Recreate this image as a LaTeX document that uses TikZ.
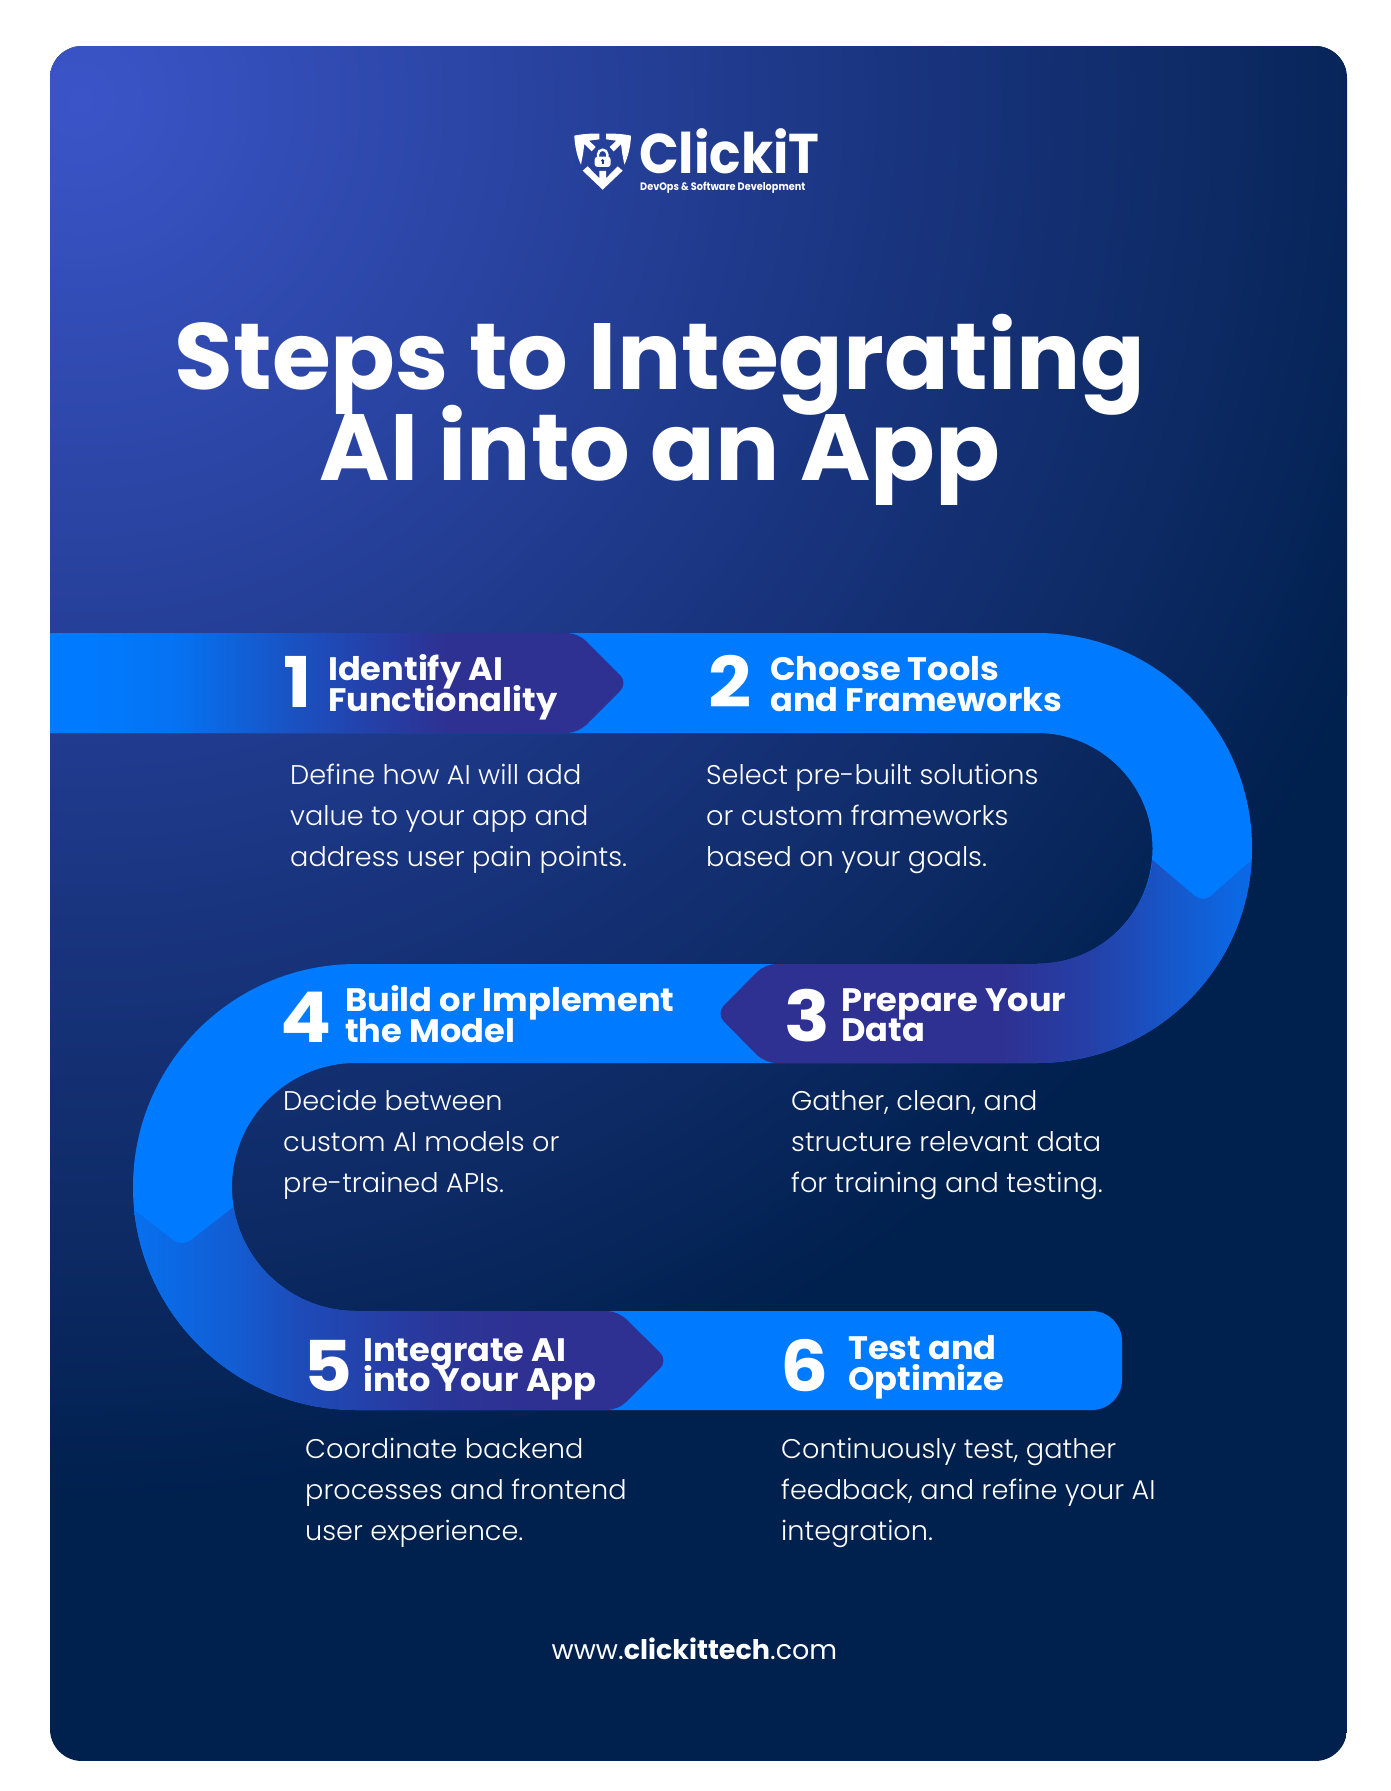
\documentclass[tikz,border=0pt]{standalone}
\usepackage{fontspec}
\setmainfont{Poppins}
\newfontfamily\titlef[FakeStretch=1.015]{Poppins Bold}
\newfontfamily\headf[FakeStretch=1.035]{Poppins Bold}
\newfontfamily\numf[FakeStretch=1.08]{Poppins Bold}
\newfontfamily\logof[FakeStretch=0.93]{Poppins Bold}
\newfontfamily\subf[FakeStretch=0.9]{Poppins Bold}
\newfontfamily\boldf{Poppins Bold}
\newfontfamily\lightf[FakeStretch=1.005]{Poppins Light}
\newfontfamily\regf{Poppins}
\definecolor{bandblue}{HTML}{007BFF}
\definecolor{purp}{HTML}{2E3192}
\definecolor{navy}{HTML}{00204E}
\definecolor{bgA}{HTML}{3B55C9}
\definecolor{bgB}{HTML}{1A3580}
\definecolor{bgC}{HTML}{0D2A64}
\pgfdeclareradialshading{cardshade}{\pgfpoint{0bp}{0bp}}{color(0bp)=(bgA);color(14.3bp)=(bgB);color(20.5bp)=(bgC);color(25bp)=(navy);color(50bp)=(navy)}
\pgfdeclarehorizontalshading{bandone}{100bp}{color(0bp)=(bandblue);color(28bp)=(bandblue);color(36bp)=(purp!12!bandblue);color(45.8bp)=(purp!55!bandblue);color(52.4bp)=(purp!78!bandblue);color(59.3bp)=(purp);color(100bp)=(purp)}
\pgfdeclarehorizontalshading{bandthree}{100bp}{color(0bp)=(purp);color(51.7bp)=(purp);color(60bp)=(purp!80!bandblue);color(68.4bp)=(purp!45!bandblue);color(73.8bp)=(purp!25!bandblue);color(100bp)=(purp!25!bandblue)}
\pgfdeclarehorizontalshading{bandfive}{100bp}{color(0bp)=(purp!15!bandblue);color(25bp)=(purp!15!bandblue);color(34bp)=(purp!40!bandblue);color(40.6bp)=(purp!65!bandblue);color(52.8bp)=(purp!92!bandblue);color(61bp)=(purp);color(100bp)=(purp)}
\tikzset{
  tx/.style={anchor=base west,inner sep=0pt,text=white},
  titletx/.style={anchor=base,inner sep=0pt,text=white,font=\titlef\fontsize{94}{94}\selectfont},
  headtx/.style={tx,font=\headf\fontsize{32.5}{32.5}\selectfont},
  numtx/.style={tx,font=\numf\fontsize{70}{70}\selectfont},
  bodytx/.style={tx,font=\lightf\fontsize{27}{27}\selectfont},
}
\begin{document}
\begin{tikzpicture}[x=1pt,y=-1pt]
\useasboundingbox (0,0) rectangle (1390,1791);
\fill[white] (0,0) rectangle (1390,1791);
% card
\begin{scope}
  \clip[rounded corners=32pt] (50,46) rectangle (1347,1761);
  \fill[navy] (50,46) rectangle (1347,1761);
  \shade[shading=cardshade] (80,100) circle[radius=1400];
  % serpentine band
  \fill[bandblue] (50,633) -- (1037,633) arc[radius=215,start angle=-90,end angle=90]
    -- (356,1063) arc[radius=124,start angle=-90,end angle=-270]
    -- (1092,1311) arc[radius=30,start angle=-90,end angle=0]
    -- (1122,1380) arc[radius=30,start angle=0,end angle=90]
    -- (356,1410) arc[radius=223,start angle=90,end angle=270]
    -- (1037,964) arc[radius=115.5,start angle=90,end angle=-90]
    -- (50,733) -- cycle;
  % chevron 1
  \path[shading=bandone,shade] (50,633) [rounded corners=11pt] -- (578,633) -- (628,683) -- (578,733) [sharp corners] -- (50,733) -- cycle;
  % chevron 3 and lower right arc
  \path[shading=bandthree,shade] (1037,964) [rounded corners=11pt] -- (765,964) -- (716,1013.5) -- (765,1063) [sharp corners]
    -- (1037,1063) arc[radius=215,start angle=90,end angle=3.2]
    [rounded corners=11pt] -- (1203,903) [sharp corners] -- (1152.5,860) arc[radius=115.5,start angle=6,end angle=90] -- cycle;
  % chevron 5 and lower left arc
  \path[shading=bandfive,shade] (356,1311) [rounded corners=11pt] -- (618,1311) -- (668,1360.5) -- (618,1410) [sharp corners]
    -- (356,1410) arc[radius=223,start angle=90,end angle=174.1]
    [rounded corners=11pt] -- (182,1247) [sharp corners] -- (233.6,1207) arc[radius=124,start angle=170.7,end angle=90] -- cycle;
\end{scope}
% logo
\begin{scope}[shift={(565,125)},x=0.3333pt,y=-0.3333pt]
  \fill[white] (28,32) .. controls (50,27) and (80,25) .. (103,26) -- (103,43) -- (72,47) -- (92,66) -- (80,79) -- (58,57) -- (54,87) -- (48,119) .. controls (36,95) and (29,60) .. (28,32) -- cycle;
  \fill[white] (198,32) .. controls (176,27) and (146,25) .. (123,26) -- (123,43) -- (154,47) -- (134,66) -- (146,79) -- (168,57) -- (172,87) -- (178,119) .. controls (190,95) and (197,60) .. (198,32) -- cycle;
  \fill[white] (53,137) -- (68,124) -- (103,160) -- (103,138) -- (123,138) -- (123,160) -- (158,124) -- (173,137) -- (113,194) -- cycle;
  \fill[white,rounded corners=3pt] (89,95) rectangle (137,126);
  \draw[white,line width=2.4pt] (99,96) -- (99,88) arc[radius=14,start angle=180,end angle=360] -- (127,96);
  \fill[bgB] (113,107) circle[radius=5];
  \fill[bgB] (110.5,107) rectangle (115.5,118);
\end{scope}
\node[tx,text depth=0pt,font=\logof\fontsize{56}{56}\selectfont] (logoname) at (639,173) {ClickiT};
\node[tx,text height=8pt,font=\subf\fontsize{10.8}{10.8}\selectfont] (logosub) at (640,190) {DevOps \& Software Development};
% title
\node[titletx] (title1) at (660,389) {Steps to Integrating};
\node[titletx] (title2) at (660,480) {AI into an App};
% step 1
\node[numtx] (n1) at (283,707) {1};
\node[headtx] (h1a) at (328,680) {Identify AI};
\node[headtx] (h1b) at (328,711) {Functionality};
\node[bodytx] (b1a) at (290,784) {Define how AI will add};
\node[bodytx] (b1b) at (290,825) {value to your app and};
\node[bodytx] (b1c) at (290,866) {address user pain points.};
% step 2
\node[numtx] (n2) at (708,707) {2};
\node[headtx] (h2a) at (770,680) {Choose Tools};
\node[headtx] (h2b) at (770,711) {and Frameworks};
\node[bodytx] (b2a) at (706,784) {Select pre-built solutions};
\node[bodytx] (b2b) at (706,825) {or custom frameworks};
\node[bodytx] (b2c) at (706,866) {based on your goals.};
% step 3
\node[numtx] (n3) at (784,1041) {3};
\node[headtx] (h3a) at (841,1011) {Prepare Your};
\node[headtx] (h3b) at (841,1041) {Data};
\node[bodytx] (b3a) at (791,1110) {Gather, clean, and};
\node[bodytx] (b3b) at (791,1151) {structure relevant data};
\node[bodytx] (b3c) at (791,1192) {for training and testing.};
% step 4
\node[numtx] (n4) at (280,1042) {4};
\node[headtx] (h4a) at (345,1011) {Build or Implement};
\node[headtx] (h4b) at (345,1042) {the Model};
\node[bodytx] (b4a) at (283,1110) {Decide between};
\node[bodytx] (b4b) at (283,1151) {custom AI models or};
\node[bodytx] (b4c) at (283,1192) {pre-trained APIs.};
% step 5
\node[numtx] (n5) at (303,1391) {5};
\node[headtx] (h5a) at (363,1361) {Integrate AI};
\node[headtx] (h5b) at (363,1391) {into Your App};
\node[bodytx] (b5a) at (305,1458) {Coordinate backend};
\node[bodytx] (b5b) at (305,1499) {processes and frontend};
\node[bodytx] (b5c) at (305,1540) {user experience.};
% step 6
\node[numtx] (n6) at (780,1391) {6};
\node[headtx] (h6a) at (848,1359) {Test and};
\node[headtx] (h6b) at (848,1390) {Optimize};
\node[bodytx] (b6a) at (781,1458) {Continuously test, gather};
\node[bodytx] (b6b) at (781,1499) {feedback, and refine your AI};
\node[bodytx] (b6c) at (781,1540) {integration.};
% footer
\node[anchor=base,inner sep=0pt,text=white,font=\regf\fontsize{27}{27}\selectfont] (foot) at (694.5,1659) {www.{\boldf clickittech}.com};
\end{tikzpicture}
\end{document}
